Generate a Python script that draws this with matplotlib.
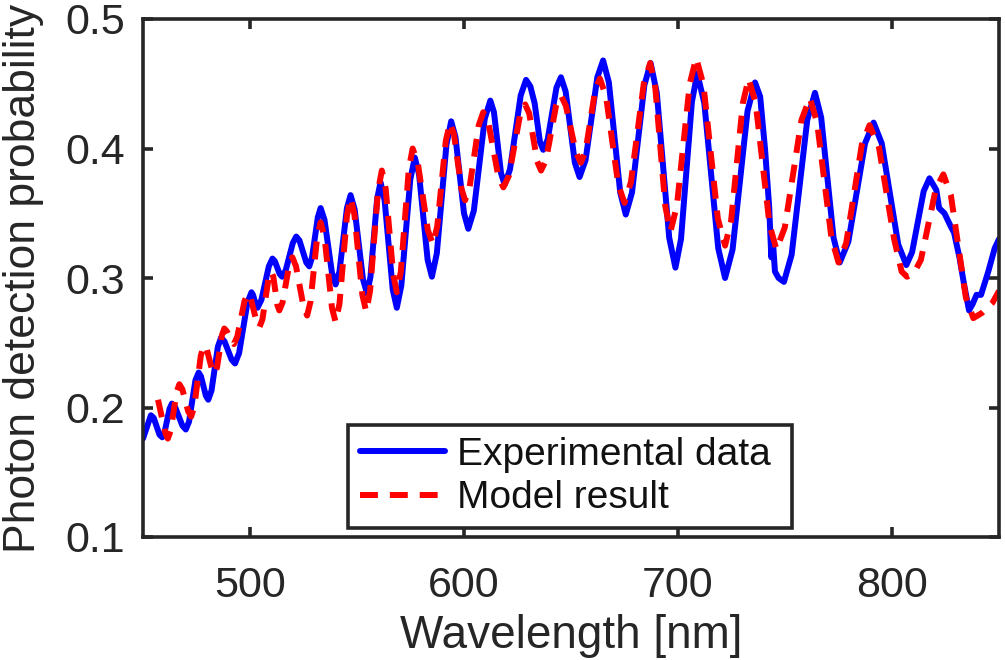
import matplotlib
matplotlib.use("Agg")
import matplotlib.pyplot as plt

plt.rcParams['font.family'] = ['Liberation Sans', 'DejaVu Sans']

exp_wl = [450, 453.7, 455.0, 457.7, 459, 460.1, 462.4, 463.5, 465.1, 468.4, 470, 471.5, 474.5,
          476, 477.1, 479.4, 480.5, 482.0, 485.0, 486.5, 488.1, 491.4, 493, 494.9, 498.8,
          500.7, 501.4, 502.8, 503.5, 505.3, 508.8, 510.5, 511.6, 513.9, 515, 516.7, 520.0,
          521.6, 523.1, 526.3, 527.7, 529.0, 531.7, 533, 534.8, 538.3, 540, 541.8, 545.3,
          547, 548.9, 552.8, 554.7, 556.3, 559.4, 561, 562.9, 566.7, 568.6, 570.7, 574.9,
          577, 579.0, 583.0, 585, 587.3, 591.8, 594, 596.0, 600.0, 602, 604.6, 609.7,
          612.3, 614.0, 617.3, 619, 621.5, 626.5, 629, 631, 633, 635.5, 637, 639.1, 643.2,
          645.3, 647.5, 651.8, 654, 656.8, 662.3, 665, 667.7, 673.0, 675.6, 678.5, 684.3,
          687.2, 690.1, 695.9, 698.8, 701.4, 706.5, 709, 712.3, 718.8, 722, 725.5, 732.5,
          736, 738.4, 740.7, 742.6, 743.6, 744.3, 745.3, 747, 749.5, 753.1, 760.4,
          764, 766.9, 772.7, 775.6, 779.6, 787.4, 791.4, 795.2, 802.9, 806.7, 809.4, 814.8,
          817.5, 820.7, 822, 824.5, 827.7, 829, 831.5, 833.9, 836, 837.7, 839.5, 841.6,
          845, 848, 850]
exp_val = [0.176, 0.194, 0.192, 0.179, 0.177, 0.181, 0.199, 0.203, 0.200, 0.186, 0.183, 0.189,
           0.221, 0.227, 0.224, 0.209, 0.206, 0.213, 0.247, 0.254, 0.251, 0.237, 0.234, 0.242,
           0.281, 0.289, 0.287, 0.279, 0.277, 0.283, 0.309, 0.315, 0.313, 0.303, 0.301, 0.306,
           0.327, 0.332, 0.329, 0.312, 0.309, 0.316, 0.347, 0.354, 0.345, 0.304, 0.295, 0.305,
           0.354, 0.364, 0.353, 0.299, 0.288, 0.301, 0.361, 0.374, 0.360, 0.291, 0.277, 0.294,
           0.376, 0.393, 0.380, 0.314, 0.301, 0.319, 0.403, 0.421, 0.409, 0.350, 0.338, 0.352,
           0.423, 0.437, 0.428, 0.381, 0.372, 0.384, 0.441, 0.453, 0.448, 0.435, 0.405, 0.399,
           0.407, 0.447, 0.455, 0.444, 0.389, 0.378, 0.391, 0.455, 0.468, 0.451, 0.366, 0.349,
           0.366, 0.449, 0.466, 0.443, 0.331, 0.308, 0.330, 0.436, 0.458, 0.435, 0.323, 0.300,
           0.322, 0.429, 0.451, 0.440, 0.399, 0.355, 0.316, 0.330, 0.305, 0.300, 0.297, 0.318,
           0.422, 0.443, 0.424, 0.331, 0.312, 0.328, 0.404, 0.420, 0.404, 0.326, 0.310, 0.320,
           0.367, 0.377, 0.368, 0.354, 0.350, 0.339, 0.335, 0.316, 0.293, 0.275, 0.280, 0.287,
           0.287, 0.305, 0.323, 0.330]

# Model result (red dashed)
model_wl = [457, 460.5, 461.6, 462.9, 465.7, 467, 468.4, 471.1, 472.5, 474.0, 477.0, 478.5,
            479.8, 482.3, 483.5, 484.6, 486.9, 488, 489.1, 491.4, 492.5, 494.1, 497.4, 499,
            500.4, 503.1, 504.4, 505.8, 508.6, 510, 510.9, 512.8, 513.7, 515.2, 518.3, 519.8,
            521.5, 525.0, 526.7, 528.3, 531.4, 533, 534.8, 538.3, 540, 541.8, 545.3, 547,
            548.8, 552.5, 554.3, 556.1, 559.8, 561.6, 563.4, 566.9, 568.6, 570.5, 574.2, 576,
            578.4, 583.1, 585.5, 587.5, 591.5, 593.5, 595.3, 598.8, 600.5, 602.6, 606.9, 609,
            611.4, 616.1, 618.4, 621.0, 626.1, 628.6, 630.5, 634.2, 636, 638.3, 643.0, 645.3,
            647.6, 652.3, 654.6, 656.8, 661.3, 663.5, 666.4, 672.1, 675, 678.0, 684.0, 687,
            689.4, 694.1, 696.5, 699.5, 705.5, 708.5, 711.9, 718.6, 722, 724.8, 730.3, 733,
            736.3, 742.8, 746, 749.9, 757.7, 761.6, 765.0, 771.7, 775, 778.6, 785.9, 789.5,
            793.9, 801, 804.5, 807, 810, 813.5, 820.5, 824, 827.5, 834.5, 838, 842, 847, 850]
model_val = [0.206, 0.180, 0.176, 0.182, 0.212, 0.218, 0.214, 0.197, 0.193, 0.201, 0.240, 0.248,
             0.245, 0.229, 0.226, 0.231, 0.256, 0.261, 0.259, 0.251, 0.249, 0.255, 0.282, 0.288,
             0.284, 0.266, 0.262, 0.268, 0.299, 0.305, 0.301, 0.279, 0.275, 0.281, 0.310, 0.316,
             0.309, 0.278, 0.271, 0.282, 0.332, 0.343, 0.332, 0.277, 0.266, 0.280, 0.348, 0.362,
             0.349, 0.287, 0.274, 0.290, 0.367, 0.383, 0.369, 0.303, 0.289, 0.305, 0.384, 0.400,
             0.389, 0.337, 0.326, 0.340, 0.406, 0.420, 0.411, 0.369, 0.360, 0.370, 0.418, 0.428,
             0.420, 0.378, 0.370, 0.379, 0.425, 0.434, 0.427, 0.390, 0.383, 0.391, 0.433, 0.441,
             0.433, 0.397, 0.389, 0.398, 0.445, 0.454, 0.440, 0.372, 0.358, 0.374, 0.450, 0.466,
             0.447, 0.355, 0.336, 0.356, 0.450, 0.470, 0.449, 0.346, 0.325, 0.344, 0.435, 0.454,
             0.435, 0.341, 0.322, 0.339, 0.422, 0.439, 0.420, 0.331, 0.312, 0.327, 0.403, 0.418,
             0.401, 0.330, 0.305, 0.301, 0.303, 0.314, 0.369, 0.380, 0.364, 0.285, 0.269, 0.273,
             0.281, 0.290]

x_ticks = [500, 600, 700, 800]
y_ticks = [0.1, 0.2, 0.3, 0.4, 0.5]
y_tick_labels = ['0.1', '0.2', '0.3', '0.4', '0.5']

AX_COLOR = '#262626'

fig = plt.figure(figsize=(10.05, 6.6), dpi=100)
ax = fig.add_axes([143 / 1005, 1 - 537 / 660, (999 - 143) / 1005, (537 - 19) / 660])

ax.plot(exp_wl, exp_val, color='#0000ff', lw=4.3, solid_joinstyle='round',
        solid_capstyle='round', label='Experimental data')
ax.plot(model_wl, model_val, color='#ff0000', lw=4.3, dashes=(3.0, 2.0),
        dash_capstyle='butt', dash_joinstyle='round', label='Model result')

ax.set_xlim(450, 850)
ax.set_ylim(0.1, 0.5)
ax.set_xticks(x_ticks)
ax.set_yticks(y_ticks)
ax.set_yticklabels(y_tick_labels)

for sp in ax.spines.values():
    sp.set_linewidth(2.6)
    sp.set_color(AX_COLOR)
ax.tick_params(axis='both', which='major', direction='in', length=7.5, width=2.6,
               color=AX_COLOR, labelcolor=AX_COLOR, labelsize=31,
               top=True, right=True)
ax.tick_params(axis='x', pad=21)
ax.tick_params(axis='y', pad=13)

ax.set_xlabel('Wavelength [nm]', fontsize=33, color=AX_COLOR, labelpad=6)
ax.set_ylabel('Photon detection probability', fontsize=32, color=AX_COLOR, labelpad=15)

leg = ax.legend(loc='lower left', bbox_to_anchor=(0.2395, 0.0174, 0.5185, 0.2123),
                mode='expand', fontsize=28, frameon=True, fancybox=False,
                handlelength=2.2, handletextpad=0.3, labelspacing=0.2,
                borderpad=0.3, borderaxespad=0.0)
frame = leg.get_frame()
frame.set_edgecolor(AX_COLOR)
frame.set_linewidth(2.6)
frame.set_facecolor('white')
frame.set_alpha(1.0)
for t in leg.get_texts():
    t.set_color('#111111')

fig.savefig('out.png', dpi=100, facecolor='white')
